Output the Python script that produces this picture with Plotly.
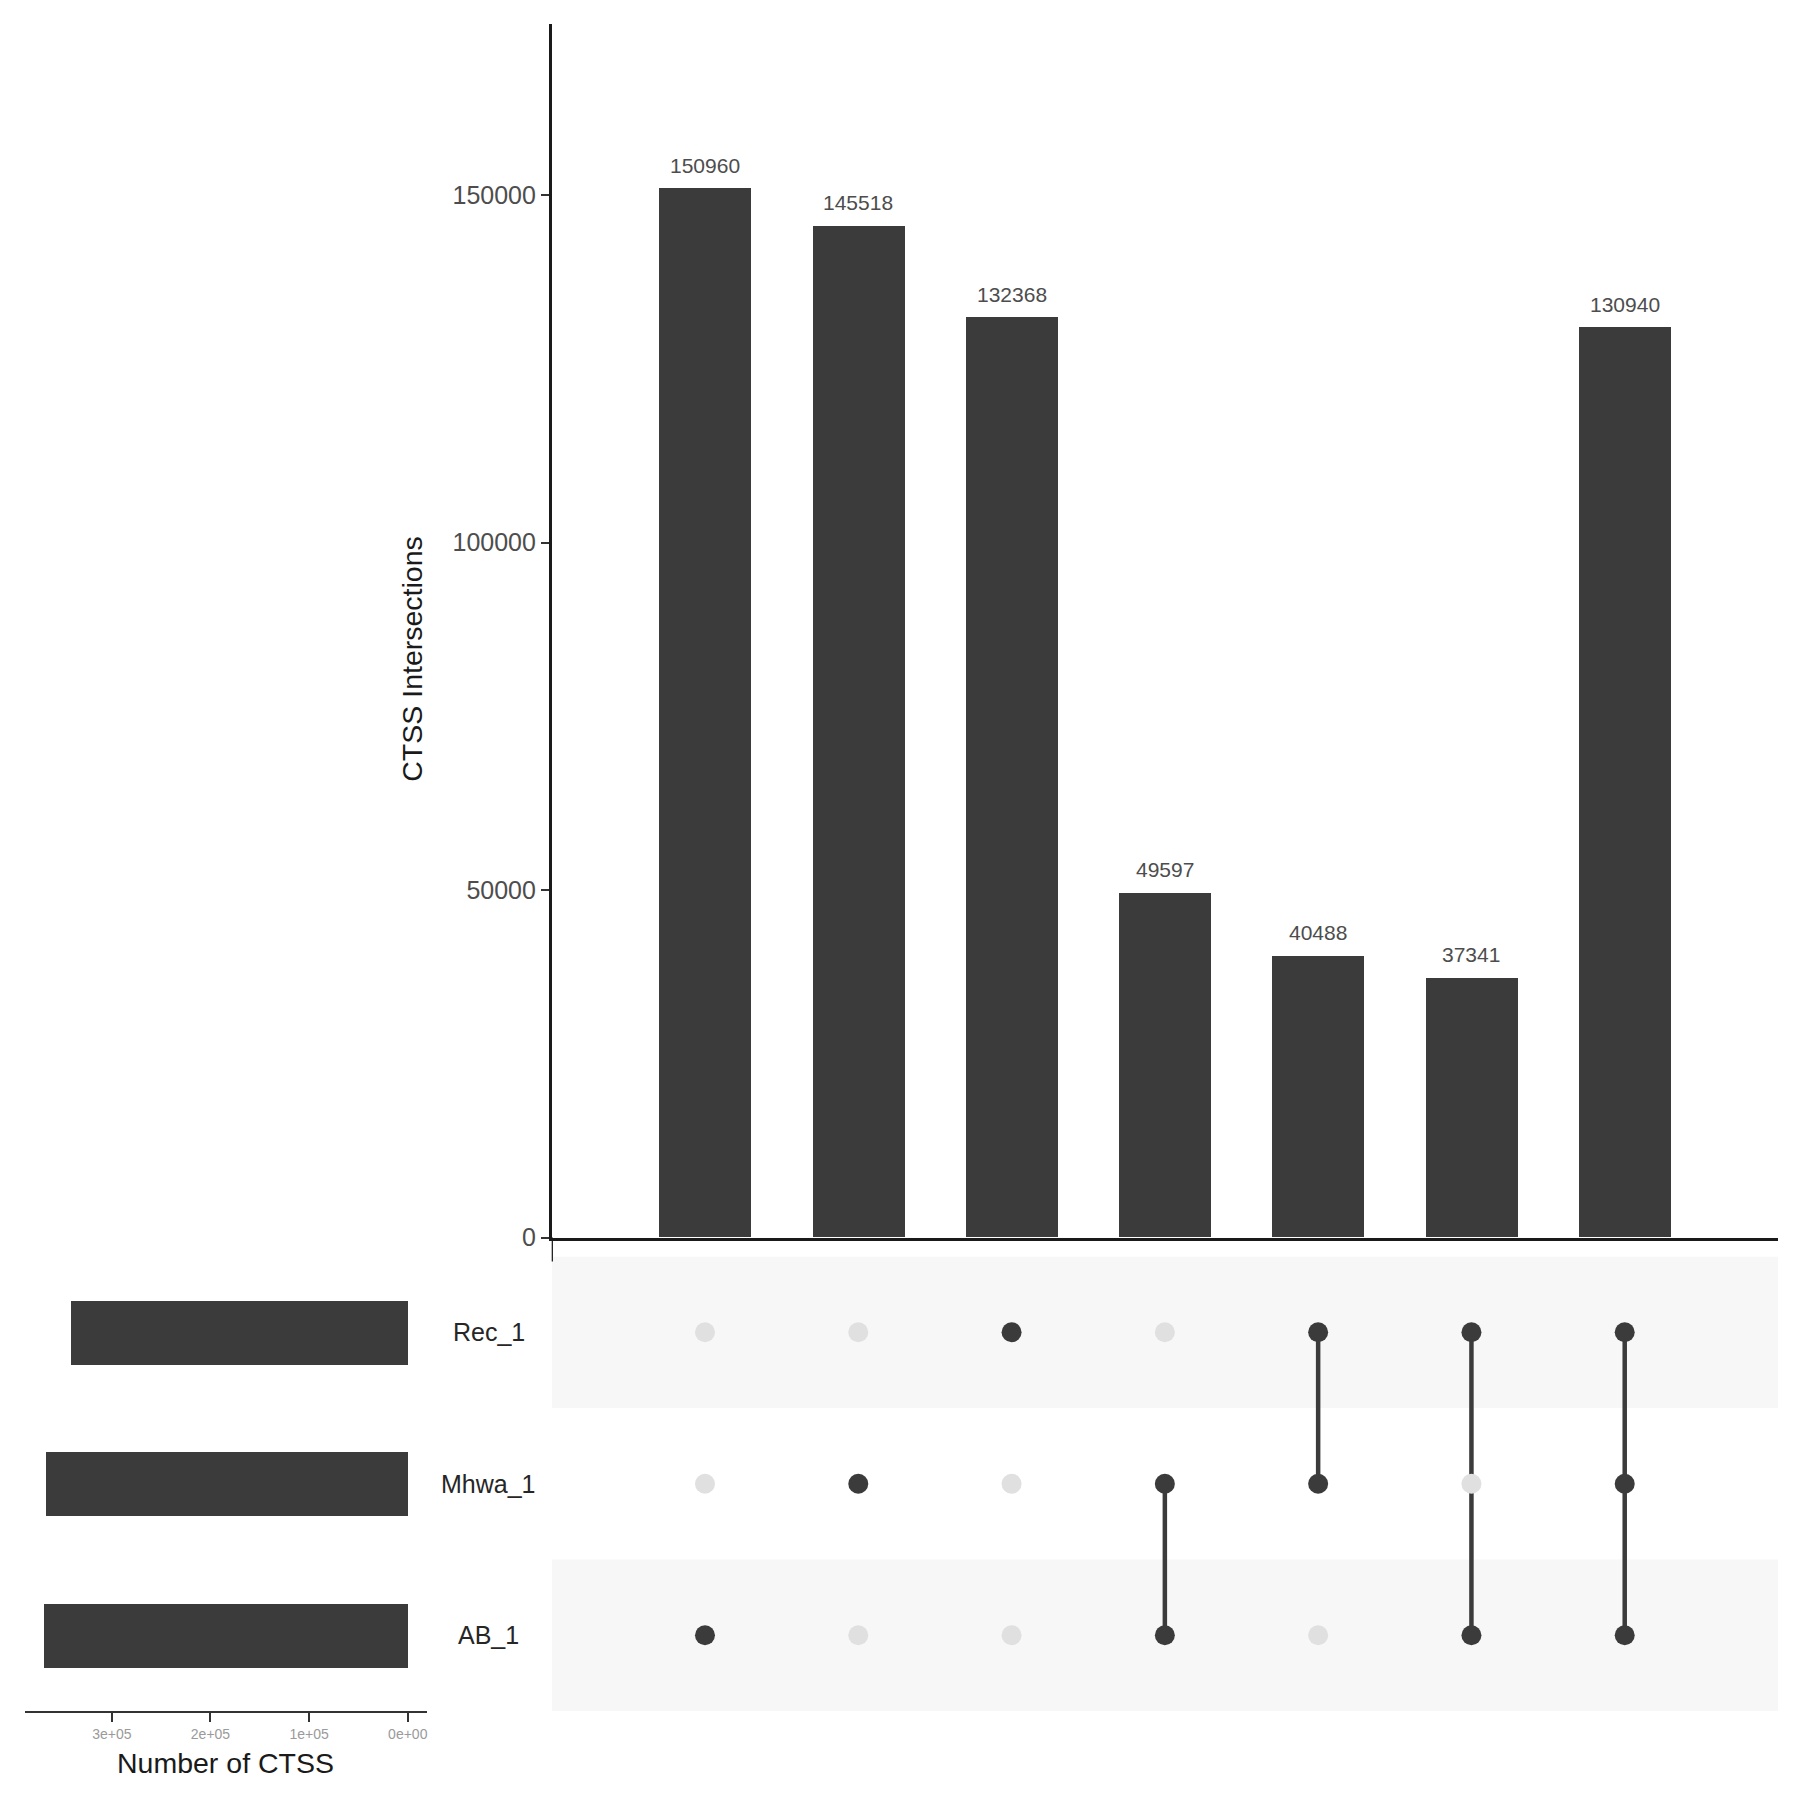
import plotly.graph_objects as go

# intersection sizes, left to right
intersection_sizes = [150960, 145518, 132368, 49597, 40488, 37341, 130940]
# which sets take part in each intersection
intersection_sets = [
    ["AB_1"],
    ["Mhwa_1"],
    ["Rec_1"],
    ["Mhwa_1", "AB_1"],
    ["Rec_1", "Mhwa_1"],
    ["Rec_1", "AB_1"],
    ["Rec_1", "Mhwa_1", "AB_1"],
]
# sets, top to bottom in the matrix
set_names = ["Rec_1", "Mhwa_1", "AB_1"]
set_sizes = [341137, 366543, 368838]
set_ticks = [0, 100000, 200000, 300000]
set_tick_labels = ["0e+00", "1e+05", "2e+05", "3e+05"]
main_ticks = [0, 50000, 100000, 150000]

bar_color = "#3b3b3b"
dot_off = "#e0e0e0"
band_color = "#f7f7f7"
font_family = "Liberation Sans, Arial, sans-serif"

# the page body keeps its default 8px margin, so the figure is made
# smaller than the 1805x1804 window; vertical positions get a small
# correction for the page being a bit taller than the window
OFF = 8
W, H = 1805 - 2 * OFF, 1804 - 2 * OFF

def px_x(p):
    return (p - OFF) / W
def px_y(p):
    return 1 - (p * 1.0089 - 9.8) / H

cols = list(range(1, len(intersection_sizes) + 1))
row_of = {name: len(set_names) - 1 - i for i, name in enumerate(set_names)}

fig = go.Figure()

# main intersection bars
fig.add_trace(go.Bar(x=cols, y=intersection_sizes, width=0.6, marker=dict(color=bar_color, line=dict(width=0)),
                     xaxis="x", yaxis="y", showlegend=False, hoverinfo="y"))

# matrix: connecting lines
for c, sets in zip(cols, intersection_sets):
    rows = [row_of[s] for s in sets]
    if len(rows) > 1:
        fig.add_trace(go.Scatter(x=[c, c], y=[min(rows), max(rows)], mode="lines",
                                 line=dict(color=bar_color, width=4.5), xaxis="x", yaxis="y3",
                                 showlegend=False, hoverinfo="skip"))

# matrix: dots
dx, dy, dc = [], [], []
for c, sets in zip(cols, intersection_sets):
    for name in set_names:
        dx.append(c)
        dy.append(row_of[name])
        dc.append(bar_color if name in sets else dot_off)
fig.add_trace(go.Scatter(x=dx, y=dy, mode="markers", marker=dict(size=20, color=dc, line=dict(width=0)),
                         xaxis="x", yaxis="y3", showlegend=False, hoverinfo="skip"))

# set size bars
fig.add_trace(go.Bar(x=set_sizes, y=[row_of[n] for n in set_names], orientation="h", width=0.42,
                     marker=dict(color=bar_color, line=dict(width=0)), xaxis="x2", yaxis="y3",
                     showlegend=False, hoverinfo="x"))

# shaded bands in the matrix
shapes = []
for name in set_names:
    r = row_of[name]
    if r % 2 == 0:
        shapes.append(dict(type="rect", xref="x", yref="y3", x0=0, x1=len(cols) + 1, y0=r - 0.5, y1=r + 0.5,
                           fillcolor=band_color, line=dict(width=0), layer="below"))
# y axis line runs a little below the baseline
shapes.append(dict(type="line", xref="x", yref="paper", x0=0, x1=0, y0=px_y(1262), y1=px_y(1238),
                   line=dict(color="#1a1a1a", width=2.5)))

annotations = []
for c, v in zip(cols, intersection_sizes):
    annotations.append(dict(x=c, y=v, xref="x", yref="y", text=str(v), showarrow=False, yanchor="bottom",
                            yshift=10, font=dict(family=font_family, size=21, color="#4d4d4d")))
for name in set_names:
    annotations.append(dict(x=px_x(489), y=row_of[name], xref="paper", yref="y3", text=name, showarrow=False,
                            xanchor="center", yanchor="middle",
                            font=dict(family=font_family, size=25, color="#262626")))
annotations.append(dict(x=px_x(412), y=px_y(660), xref="paper", yref="paper", text="CTSS Intersections",
                        showarrow=False, textangle=-90, xanchor="center", yanchor="middle",
                        font=dict(family=font_family, size=28.5, color="#1a1a1a")))
annotations.append(dict(x=px_x(226), y=px_y(1763), xref="paper", yref="paper", text="Number of CTSS",
                        showarrow=False, xanchor="center", yanchor="middle",
                        font=dict(family=font_family, size=28.5, color="#1a1a1a")))

fig.update_layout(
    width=W, height=H,
    margin=dict(l=0, r=0, t=0, b=0),
    paper_bgcolor="white", plot_bgcolor="white",
    font=dict(family=font_family),
    bargap=0,
    xaxis=dict(domain=[px_x(552), px_x(1779)], range=[0, len(cols) + 1], anchor="y",
               showline=True, linecolor="#1a1a1a", linewidth=2.5, showticklabels=False,
               ticks="", showgrid=False, zeroline=False),
    yaxis=dict(domain=[px_y(1238), px_y(26)], range=[0, 174600], anchor="x",
               showline=True, linecolor="#1a1a1a", linewidth=2.5, tickvals=main_ticks,
               ticktext=[str(t) for t in main_ticks], ticks="outside", ticklen=8, tickwidth=2,
               tickcolor="#333333", tickfont=dict(size=25, color="#4d4d4d"),
               showgrid=False, zeroline=False),
    yaxis3=dict(domain=[px_y(1711), px_y(1257)], range=[-0.5, len(set_names) - 0.5], anchor="x",
                showticklabels=False, ticks="", showgrid=False, zeroline=False, showline=False),
    xaxis2=dict(domain=[px_x(25), px_x(427)], range=[388000, -19250], anchor="y3",
                showline=True, linecolor="#333333", linewidth=2, tickvals=set_ticks,
                ticktext=set_tick_labels, ticks="outside", ticklen=9, tickwidth=2, tickcolor="#333333",
                tickfont=dict(size=14, color="#9a9a9a"), showgrid=False, zeroline=False),
    shapes=shapes,
    annotations=annotations,
)

fig.write_html("out.html")
